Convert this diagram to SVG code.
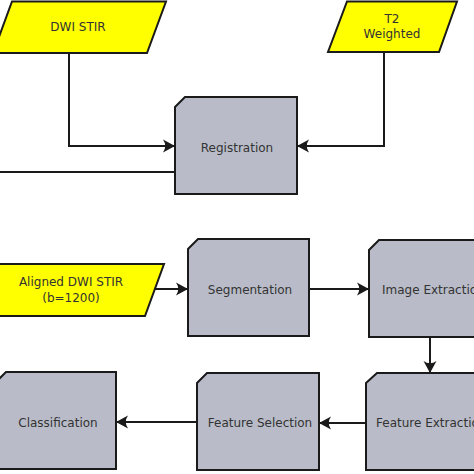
<svg xmlns="http://www.w3.org/2000/svg" width="474" height="474" viewBox="0 0 474 474">
<style>
.io{fill:#ffff00;stroke:#1a1a1a;stroke-width:2;stroke-linejoin:miter}
.box{fill:#b9bcc8;stroke:#1a1a1a;stroke-width:2;stroke-linejoin:miter}
.t{font-family:"DejaVu Sans",Verdana,sans-serif;font-size:12px;fill:#333333;text-anchor:middle}
.c{fill:none;stroke:#1a1a1a;stroke-width:2}
</style>
<defs>
<marker id="arr" markerUnits="userSpaceOnUse" markerWidth="16" markerHeight="16" viewBox="-13 -8 16 16" refX="0" refY="0" orient="auto">
<path d="M1,0 L-11,-6.5 Q-6.5,0 -11,6.5 Z" fill="#1a1a1a"/>
</marker>
</defs>
<rect width="474" height="474" fill="#ffffff"/>
<g id="connectors">
<path class="c" d="M69,53 V146 H174" marker-end="url(#arr)"/>
<path class="c" d="M384,52 V146 H298" marker-end="url(#arr)"/>
<path class="c" d="M0,172 H175"/>
<path class="c" d="M155,289 H187" marker-end="url(#arr)"/>
<path class="c" d="M309,289 H368" marker-end="url(#arr)"/>
<path class="c" d="M430,337 V372" marker-end="url(#arr)"/>
<path class="c" d="M366,423 H320" marker-end="url(#arr)"/>
<path class="c" d="M197,422 H117" marker-end="url(#arr)"/>
</g>
<g id="dwi-stir">
<path class="io" d="M12,1.5 L166,1.5 L147,53 L-7,53 Z"/>
<text class="t" x="78" y="31">DWI STIR</text>
</g>
<g id="t2-weighted">
<path class="io" d="M347,1.5 L457,1.5 L439,52 L328,52 Z"/>
<text class="t" x="392" y="23">T2</text>
<text class="t" x="392" y="38">Weighted</text>
</g>
<g id="registration">
<path class="box" d="M175,107 L185,97 L297,97 L297,194 L175,194 Z"/>
<text class="t" x="237" y="152">Registration</text>
</g>
<g id="aligned-dwi-stir">
<path class="io" d="M-20,264 L164,264 L145,316 L-40,316 Z"/>
<text class="t" x="71" y="286">Aligned DWI STIR</text>
<text class="t" x="71" y="302">(b=1200)</text>
</g>
<g id="segmentation">
<path class="box" d="M188,249 L198,239 L309,239 L309,336 L188,336 Z"/>
<text class="t" x="250" y="294">Segmentation</text>
</g>
<g id="image-extraction">
<path class="box" d="M369,250 L379,240 L490,240 L490,337 L369,337 Z"/>
<text class="t" x="382" y="294" style="text-anchor:start">Image Extraction</text>
</g>
<g id="classification">
<path class="box" d="M-4,382 L6,372 L116,372 L116,469 L-4,469 Z"/>
<text class="t" x="58" y="427">Classification</text>
</g>
<g id="feature-selection">
<path class="box" d="M197,383 L207,373 L319,373 L319,470 L197,470 Z"/>
<text class="t" x="260" y="427">Feature Selection</text>
</g>
<g id="feature-extraction">
<path class="box" d="M366,383 L377,373 L487,373 L487,470 L366,470 Z"/>
<text class="t" x="376" y="427" style="text-anchor:start">Feature Extraction</text>
</g>
</svg>
